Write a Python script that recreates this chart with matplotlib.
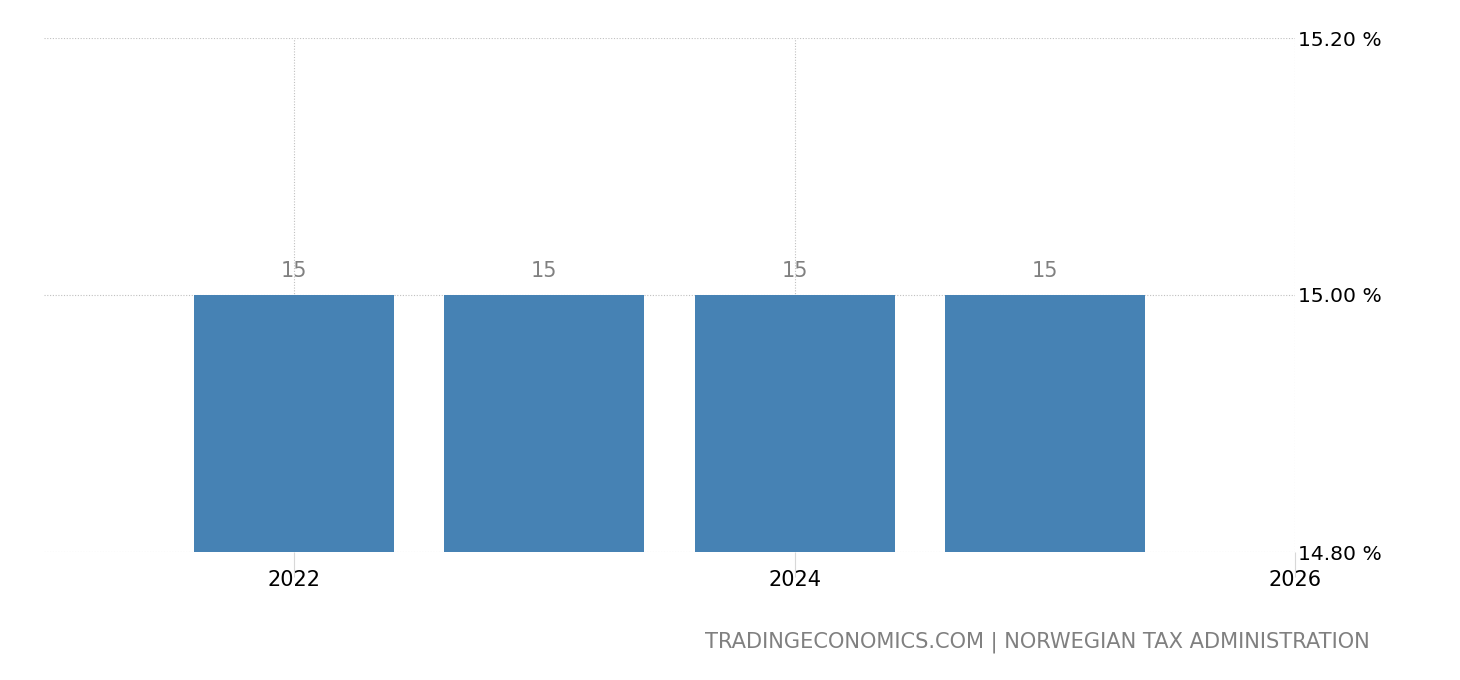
import matplotlib
matplotlib.use("Agg")
import matplotlib.pyplot as plt
from matplotlib.ticker import FixedLocator, FuncFormatter

years = [2022, 2023, 2024, 2025]
values = [15, 15, 15, 15]
x_ticks = [2022, 2024, 2026]
y_ticks = [14.8, 15.0, 15.2]
source_text = "TRADINGECONOMICS.COM | NORWEGIAN TAX ADMINISTRATION"

plt.rcParams['font.family'] = ['DejaVu Sans']

W, H = 1460, 680
fig = plt.figure(figsize=(W / 100, H / 100), dpi=100)
ax = fig.add_axes([44 / W, 1 - 552 / H, (1295 - 44) / W, (552 - 38) / H])

ax.bar(years, [v - 14.8 for v in values], bottom=14.8, width=0.8,
       color='#4682b4', zorder=2)
for x, v in zip(years, values):
    ax.annotate(f"{v:g}", (x, v), xytext=(0, 10), textcoords='offset points',
                ha='center', va='bottom', fontsize=15, color='#808080')

ax.set_xlim(2021, 2026)
ax.set_ylim(14.8, 15.2)
ax.xaxis.set_major_locator(FixedLocator(x_ticks))
ax.yaxis.set_major_locator(FixedLocator(y_ticks))
ax.xaxis.set_major_formatter(FuncFormatter(lambda v, p: f"{int(round(v))}"))
ax.yaxis.set_major_formatter(FuncFormatter(lambda v, p: f"{v:.2f} %"))
ax.yaxis.tick_right()

ax.grid(True, color='#c0c0c0', linestyle=(0, (1, 1.5)), linewidth=0.8, zorder=0)
for s in ax.spines.values():
    s.set_visible(False)

ax.tick_params(axis='x', length=18, color='#d8d8d8', width=0.8,
               labelsize=15, labelcolor='black', pad=-5)
ax.tick_params(axis='y', length=0, labelsize=14.6, labelcolor='black', pad=2)

fig.text(1370 / W, 1 - 642 / H, source_text, ha='right', va='center',
         fontsize=15.1, color='#808080')

fig.savefig("out.png", dpi=100, facecolor='white')
